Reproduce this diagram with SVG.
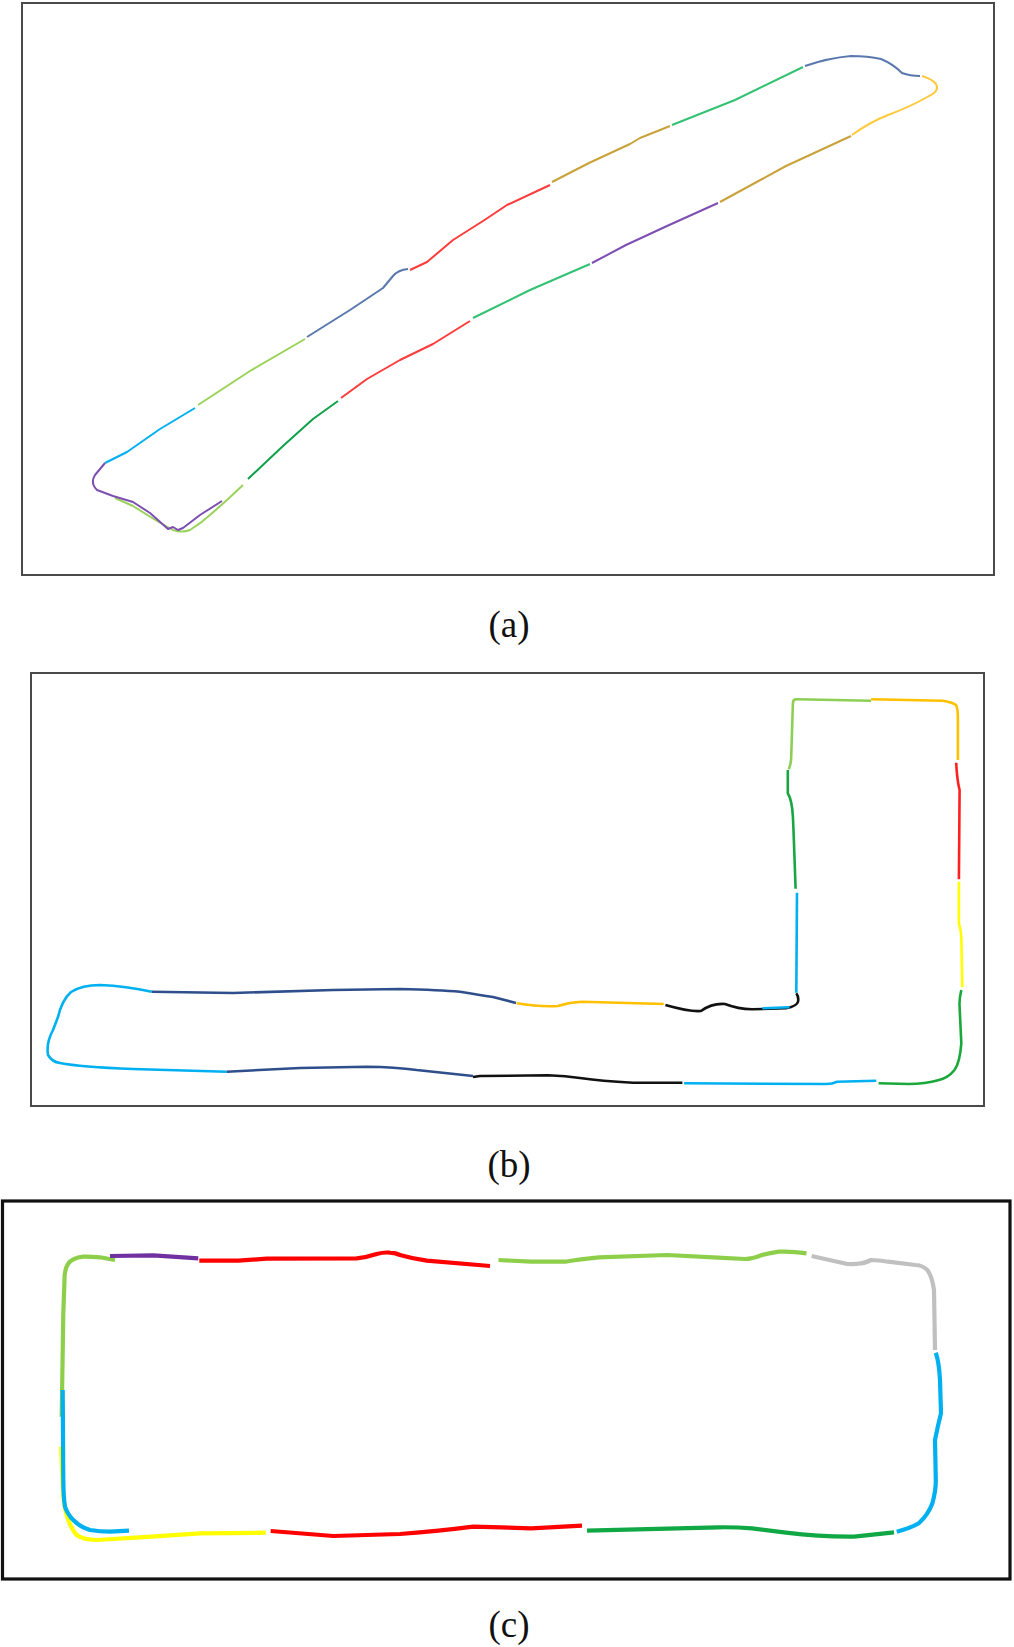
<svg xmlns="http://www.w3.org/2000/svg" width="1014" height="1647" viewBox="0 0 1014 1647">
<style>
.fr{fill:none;stroke:#4a4a4a;stroke-width:2}
.frc{fill:none;stroke:#111;stroke-width:3.2}
.t{fill:none;stroke-linecap:butt;stroke-linejoin:round}
.a{stroke-width:2}
.b{stroke-width:2.6}
.c{stroke-width:4.2}
.lbl{font-family:"Liberation Serif","Times New Roman",serif;font-size:37px;fill:#111;text-anchor:middle}
</style>
<rect width="1014" height="1647" fill="#fff"/>

<!-- Panel (a) -->
<g id="panel-a">
<rect class="fr" x="22" y="3" width="972" height="572"/>
<g id="traj-a">
<path class="t a" stroke="#00B0F0" d="M195,408 L160,429 L127,452 L105,463"/>
<path class="t a" stroke="#9BD35A" d="M305,339 L250,371 L198,405"/>
<path class="t a" stroke="#5A78AE" d="M307,337 L350,310 L383,288 Q388,282 393,276 Q398,270 408,269"/>
<path class="t a" stroke="#FF3B3B" d="M410,270 L427,262 L453,240 L483,221 L507,205 L550,185"/>
<path class="t a" stroke="#C9A23A" d="M552,182 L589,163 L630,144 L640,138 L670,126"/>
<path class="t a" stroke="#33C172" d="M672,125 L735,100 L803,67"/>
<path class="t a" stroke="#5A78AE" d="M805,66 Q828,58 851,56 Q868,56 881,59 Q893,64 902,73 Q910,76 920,76"/>
<path class="t a" stroke="#FFC93C" d="M922,76 Q932,79 936,84 Q940,91 929,96 Q910,107 888,115 Q870,122 852,135"/>
<path class="t a" stroke="#C9A23A" d="M851,136 L786,166 L720,202"/>
<path class="t a" stroke="#7E4FB2" d="M718,203 L667,226 L626,245 L592,263"/>
<path class="t a" stroke="#33C172" d="M590,264 L530,290 L473,318"/>
<path class="t a" stroke="#FF3B3B" d="M470,321 L433,344 L400,360 L367,379 L341,398"/>
<path class="t a" stroke="#0FA04A" d="M338,401 L313,419 L283,446 L248,479"/>
<path class="t a" stroke="#9BD35A" d="M243,485 L227,500 L210,515 Q200,524 190,530 Q182,533 173,530 L157,521 L133,506 L115,498"/>
<path class="t a" stroke="#7E4FB2" d="M105,463 L95,475 Q90,483 97,490 L113,496 L133,502 L150,513 L168,529 L173,527 L178,530 L183,528 L200,515 L222,501"/>
</g>
<text class="lbl" x="509" y="637">(a)</text>
</g>

<!-- Panel (b) -->
<g id="panel-b">
<rect class="fr" x="31" y="673" width="953" height="433"/>
<g id="traj-b">
<path class="t b" stroke="#00B0F0" d="M151.7,991.7 Q126,986 100,985 Q82,985 71,992 Q62,1000 58,1017 L53,1030 Q46,1043 48,1055 Q52,1062 60,1063 Q80,1067 133,1069 L226.7,1071.7"/>
<path class="t b" stroke="#2E4E8C" d="M151.7,991.7 L233,993 L333,990 L400,989 Q440,990 460,991.7 Q480,995 493,997 L516,1003"/>
<path class="t b" stroke="#FFC000" d="M516.7,1003.3 Q540,1007 558,1006 Q570,1002 582,1001.7 L663.7,1004"/>
<path class="t b" stroke="#111" d="M665.4,1005 Q690,1012 701,1011 Q712,1003 725,1004 Q738,1009 752,1009.3 L786,1008.3 Q797,1006 798,1001.7 Q799,997 796.3,993.3"/>
<path class="t b" stroke="#00B0F0" d="M762.3,1008.3 L789.5,1007.3"/>
<path class="t b" stroke="#00B0F0" d="M796.3,992.7 L797,892.7"/>
<path class="t b" stroke="#18A543" d="M795.6,888.7 L793.5,830 L792.9,816.7 Q792,800 787.8,793.3 L787.8,770"/>
<path class="t b" stroke="#8DCF56" d="M788.8,769.3 Q791,764 791.2,756.7 L792.9,703.3 Q793,699.3 796.3,699.3 L871.2,700.7"/>
<path class="t b" stroke="#FFC000" d="M871.2,699.3 L942.6,700.7 Q952,702 956,705 Q958,708 957.9,720 L957.9,760"/>
<path class="t b" stroke="#FF2020" d="M956.2,762.7 Q957,780 959.6,790 L958.9,879.3"/>
<path class="t b" stroke="#FFFF00" d="M958.9,881.7 L958.9,923.3 Q961,930 961.3,936.7 L962.3,987.3"/>
<path class="t b" stroke="#1AA83B" d="M961.3,990 Q959,1000 959.6,1006.7 L961.3,1043.3 Q960,1062 954.5,1070 Q948,1078 939,1080 Q925,1084 908.6,1084 L878.6,1083.3"/>
<path class="t b" stroke="#00B0F0" d="M876.3,1080.7 L837.1,1081.7 Q832,1084 826.9,1084 L684.1,1083.3"/>
<path class="t b" stroke="#111" d="M682.4,1082.7 L633,1082.7 Q600,1081 582,1078.3 Q565,1076 548,1075.3 L480,1076 L473,1077"/>
<path class="t b" stroke="#2E4E8C" d="M226.7,1071.7 L300,1068 L366.7,1066.7 Q395,1067 416.7,1070 L473,1076"/>
</g>
<text class="lbl" x="509" y="1177">(b)</text>
</g>

<!-- Panel (c) -->
<g id="panel-c">
<rect class="frc" x="2.5" y="1201" width="1007.5" height="378"/>
<g id="traj-c">
<path class="t c" stroke="#8DCF4A" d="M115,1260 L100,1257.3 Q90,1256.5 83.3,1256.7 Q72,1258 68,1264 Q64.5,1269 64.5,1280 L63.3,1313 L61.7,1416.7"/>
<path class="t c" stroke="#7030A0" d="M110,1256 L153.3,1255.3 L198.3,1258.3"/>
<path class="t c" stroke="#FF0000" d="M199.3,1260.7 L238.3,1260.7 L266.7,1258.7 L356.7,1258.3 Q368,1257 376.7,1254 Q384,1252 390,1252.7 Q396,1253 400,1255 Q414,1259 426.7,1260.7 L490,1266"/>
<path class="t c" stroke="#FFFF00" d="M61,1446.7 L63.3,1496.7 Q65,1512 68.3,1520 Q72,1530 76.7,1535 Q84,1540 96.7,1540 L140,1537.3 L200,1533.3 L265.7,1532.7"/>
<path class="t c" stroke="#00B0F0" d="M62.7,1390 L63.3,1480 Q63.5,1498 65,1506.7 Q68,1515 73.3,1520 Q80,1527 90,1530 Q100,1531.7 110,1531.7 L129,1530.7"/>
<path class="t c" stroke="#FF0000" d="M270.7,1531 L333.3,1536 L400,1534 Q440,1531 473.3,1526.7 L531,1528.3 L582,1525.7"/>
<path class="t c" stroke="#0FA845" d="M587,1530.7 L718,1527.3 Q735,1527 752,1528.3 L786,1532.7 Q820,1537 854,1536.7 L894,1532.3"/>
<path class="t c" stroke="#00B0F0" d="M896.7,1531.7 Q911,1528 918.8,1523.3 Q928,1515 932.4,1503.3 Q936,1490 935.8,1480 L935,1440 Q938,1425 941,1413.3 L940,1380 Q939,1362 935.8,1352.7"/>
<path class="t c" stroke="#C0C0C0" d="M935,1350 L934,1290 Q932,1276 927.3,1270 Q922,1265 915.4,1265 L888,1261.7 Q878,1260 871,1260 Q865,1263 861,1263.3 Q855,1264.5 847.3,1264 L811.6,1256"/>
<path class="t c" stroke="#8DCF4A" d="M806.5,1253.3 Q790,1251 779,1251.7 Q770,1253 762,1255 Q752,1259 745,1259 L718,1257.7 L667,1255 L599,1257.3 Q580,1259 565,1261.7 L531,1261.7 L498.5,1260"/>
</g>
<text class="lbl" x="509" y="1637">(c)</text>
</g>
</svg>
